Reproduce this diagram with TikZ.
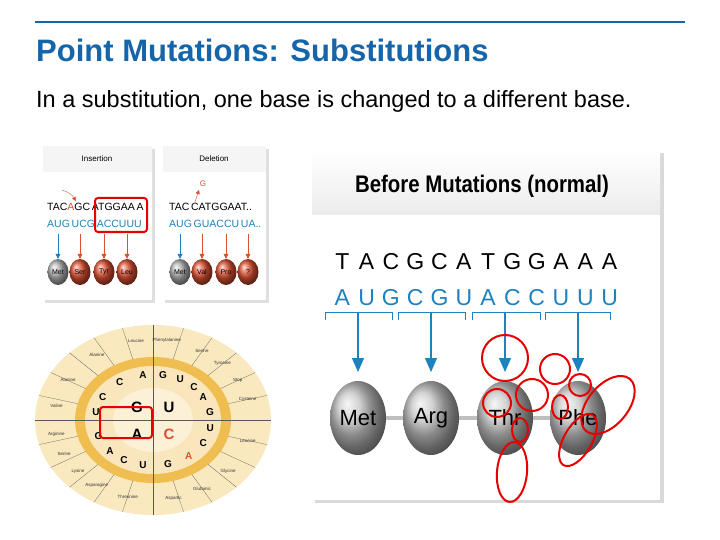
\documentclass[tikz,border=0pt]{standalone}
\usepackage{fontspec}
\setmainfont{Liberation Sans}
\usetikzlibrary{arrows.meta,shapes.geometric}
\definecolor{ttl}{RGB}{21,101,170}
\definecolor{rna}{RGB}{30,130,190}
\definecolor{mred}{RGB}{230,0,0}
\definecolor{sred}{RGB}{220,80,50}
\definecolor{wheelout}{RGB}{250,232,190}
\definecolor{wheelmid}{RGB}{240,190,80}
\definecolor{wheelin}{RGB}{252,240,215}
\tikzset{
 sphere/.style={ellipse,minimum width=56pt,minimum height=74pt,inner sep=0pt,ball color=gray!45,font=\fontsize{22}{22}\selectfont},
 ssph/.style={ellipse,minimum width=21pt,minimum height=26pt,inner sep=0pt,font=\fontsize{7}{7}\selectfont},
 ring/.style={draw=mred,line width=2pt},
 barrow/.style={draw=rna,line width=1.3pt,-{Triangle[width=12pt,length=14pt]}},
 sarrow/.style={line width=0.7pt,-{Triangle[width=5pt,length=5pt]}},
 seq/.style={anchor=west,font=\fontsize{10.5}{10.5}\selectfont,inner sep=0pt}
}
\begin{document}
\begin{tikzpicture}[x=1pt,y=-1pt]
\useasboundingbox (0,0) rectangle (720,540);
\fill[white] (0,0) rectangle (720,540);
\draw[ttl,line width=2.5pt] (35,22) -- (685,22);
\node[anchor=west,text=ttl,font=\bfseries\fontsize{31}{36}\selectfont,inner sep=0pt] (title) at (36,50) {Point Mutations: Substitutions};
\node[anchor=west,font=\fontsize{23.5}{28}\selectfont,inner sep=0pt] (sub) at (36,101) {In a substitution, one base is changed to a different base.};
% insertion panel
\fill[gray!25] (45,149) rectangle (155,303);
\fill[white] (43,146) rectangle (152,300);
\fill[gray!8] (43,146) rectangle (152,172);
\node[font=\fontsize{8}{8}\selectfont] (ins) at (97,159) {Insertion};
\node[seq] (insd) at (47,207) {TAC\textcolor{sred}{A}GC\,ATGGAA\,A};
\node[seq,text=rna] (insr) at (47,224) {AUG\,UCG\,ACCUUU};
\foreach \x/\c/\l/\ac [count=\i] in {58/gray!60/Met/rna,80/sred/Ser/sred,104/sred/Tyr/sred,127/sred/Leu/sred}{
 \node[ssph,ball color=\c] (is\i) at (\x,272) {\l};
 \draw[sarrow,draw=\ac] (\x,234) -- (is\i.north);
}
\draw[sred,-{Triangle[width=4pt,length=4pt]}] (62,190) to[bend left=20] (76,201);
\draw[ring,rounded corners=3pt] (95,198) rectangle (147,232);
% deletion panel
\fill[gray!25] (165,149) rectangle (269,303);
\fill[white] (163,146) rectangle (266,300);
\fill[gray!8] (163,146) rectangle (266,172);
\node[font=\fontsize{8}{8}\selectfont] (del) at (214,159) {Deletion};
\node[seq] (deld) at (169,207) {TAC\,CATGGAAT..};
\node[seq,text=rna] (delr) at (169,224) {AUG\,GUACCU\,UA..};
\node[text=sred,font=\fontsize{8}{8}\selectfont] (g) at (203,184) {G};
\draw[sred,-{Triangle[width=4pt,length=4pt]}] (195,202) -- (199,190);
\foreach \x/\c/\l/\ac [count=\i] in {180/gray!60/Met/rna,202/sred/Val/sred,226/sred/Pro/sred,248/sred/?/sred}{
 \node[ssph,ball color=\c] (ds\i) at (\x,272) {\l};
 \draw[sarrow,draw=\ac] (\x,234) -- (ds\i.north);
}
% codon wheel
\fill[wheelout] (153,420) ellipse (118 and 95);
\fill[wheelmid] (153,420) ellipse (78 and 63);
\fill[wheelin!80!wheelmid] (153,420) ellipse (68 and 54);
\fill[wheelin] (153,420) ellipse (40 and 32);
\draw[gray!70!black,line width=0.3pt] (35,420) -- (271,420) (153,325) -- (153,515);
\foreach \a in {15,30,45,60,75,105,120,135,150,165,195,210,225,240,255,285,300,315,330,345}{
 \draw[gray!60!black,line width=0.2pt] (153,420) ++(\a:78 and -63) -- ++(\a:40 and -32);
}
\foreach \a/\t in {15/Cysteine,30/Stop,45/Tyrosine,60/Serine,82/Phenylalanine,100/Leucine,125/Alanine,150/Alanine,170/Valine,190/Arginine,205/Serine,220/Lysine,235/Asparagine,255/Threonine,282/Aspartic,300/Glutamic,320/Glycine,345/Leucine}{
 \node[font=\fontsize{4.5}{4.5}\selectfont,text=black!80] at (153,420) [shift={(\a:98 and -80)}] {\t};
}
\foreach \a/\t/\c in {100/A/black,80/G/black,62/U/black,45/C/black,30/A/black,10/G/black,350/U/black,330/C/black,308/A/sred,285/G/black,260/U/black,240/C/black,222/A/black,200/G/black,170/U/black,150/C/black,125/C/black}{
 \node[font=\bfseries\fontsize{10}{10}\selectfont,text=\c] at (153,420) [shift={(\a:58 and -46)}] {\t};
}
\node[font=\bfseries\fontsize{15}{15}\selectfont] (wG) at (137,407) {G};
\node[font=\bfseries\fontsize{15}{15}\selectfont] (wU) at (169,407) {U};
\node[font=\bfseries\fontsize{15}{15}\selectfont] (wA) at (137,434) {A};
\node[font=\bfseries\fontsize{15}{15}\selectfont,text=sred] (wC) at (169,434) {C};
\draw[ring,rounded corners=3pt] (100,407) rectangle (152,438);
% right panel
\fill[gray!30] (315,153) rectangle (664,503);
\fill[white] (312,150) rectangle (660,500);
\shade[top color=white,bottom color=gray!15] (312,150) rectangle (660,215);
\node[font=\bfseries\fontsize{24}{24}\selectfont,xscale=0.85] (bm) at (482,186) {Before Mutations (normal)};
\foreach \l [count=\i] in {T,A,C,G,C,A,T,G,G,A,A,A}{
 \node[font=\fontsize{23}{23}\selectfont] (d\i) at (318+\i*24.3,262) {\l};
}
\foreach \l [count=\i] in {A,U,G,C,G,U,A,C,C,U,U,U}{
 \node[font=\fontsize{23}{23}\selectfont,text=rna] (r\i) at (318+\i*24.3,298) {\l};
}
\draw[rna,line width=0.7pt] (325,320) -- (325,312) -- (392,312) -- (392,320)
 (398,320) -- (398,312) -- (465,312) -- (465,320)
 (472,320) -- (472,312) -- (540,312) -- (540,320)
 (545,320) -- (545,312) -- (610,312) -- (610,320);
\draw[gray!50,line width=4pt] (358,418) -- (578,418);
\foreach \x/\l [count=\i] in {358/Met,431/Arg,505/Thr,578/Phe}{
 \node[sphere] (s\i) at (\x,418) {\l};
 \draw[barrow] (\x,312) -- (\x,372);
}
% red marks
\draw[ring] (505,358) circle (23);
\draw[ring] (555,369) circle (15);
\draw[ring] (532,395) circle (16);
\draw[ring] (497,403) circle (14);
\draw[ring] (580,385) circle (11);
\draw[ring,rotate around={-40:(608,405)}] (608,405) ellipse (20 and 34);
\draw[ring] (560,407) ellipse (8 and 12);
\draw[ring] (520,430) ellipse (8 and 12);
\draw[ring,rotate around={-30:(578,440)}] (578,440) ellipse (14 and 29);
\draw[ring,rotate around={-5:(512,472)}] (512,472) ellipse (15 and 30);
\end{tikzpicture}
\end{document}
